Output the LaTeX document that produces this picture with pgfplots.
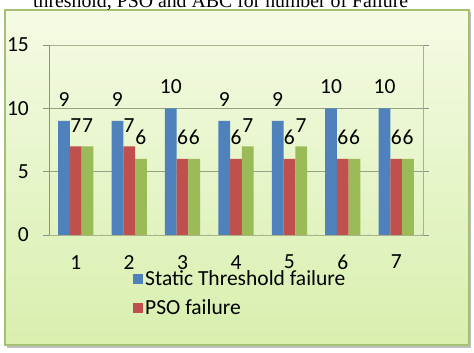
\documentclass[border=0pt]{standalone}
\usepackage{pgfplots}
\pgfplotsset{compat=1.18}
\usepackage{fontspec}
\setmainfont{Carlito}
\newfontfamily\titlefont{Liberation Serif}
\definecolor{sblue}{RGB}{79,129,189}
\definecolor{sred}{RGB}{192,80,77}
\definecolor{sgreen}{RGB}{155,187,89}
\definecolor{frameg}{RGB}{165,192,112}
\definecolor{bordo}{RGB}{168,180,135}
\definecolor{gridc}{RGB}{150,160,130}
\definecolor{axisg}{RGB}{140,145,140}
\definecolor{bgtop}{RGB}{244,251,228}
\definecolor{bgbot}{RGB}{216,239,174}
\begin{document}
\begin{tikzpicture}[x=1pt,y=1pt]
\clip (0,0) rectangle (474,353);
\fill[black!25] (7,5) rectangle (471,341);
\shade[top color=bgtop, bottom color=bgbot] (5,8) rectangle (469,343);
\draw[frameg, line width=1.5pt] (5,8) rectangle (469,343);
\node[anchor=base west, inner sep=0, font=\titlefont\fontsize{19.8}{22}\selectfont] at (33,345.5) {threshold, PSO and ABC for number of Failure};
\begin{axis}[
  at={(49pt,118pt)}, anchor=south west,
  width=374pt, height=190pt, scale only axis,
  /pgf/number format/assume math mode=true,
  ybar=0pt, bar width=0.22,
  xmin=0.5, xmax=7.5, ymin=0, ymax=15,
  xtick={1,...,7}, ytick={0,5,10,15},
  xtick style={draw=none},
  ytick style={axisg, line width=0.8pt},
  tick align=outside, major tick length=6pt,
  ymajorgrids, grid style={gridc, line width=0.8pt},
  axis line style={bordo, line width=0.8pt},
  ticklabel style={font=\fontsize{21.5}{25}\selectfont},
  xticklabel style={inner sep=0pt, yshift=-14pt},
  yticklabel style={inner sep=0pt, xshift=-14pt},
  nodes near coords,
  every node near coord/.append style={anchor=south, inner sep=0pt, yshift=14pt, font=\fontsize{21.5}{25}\selectfont, text=black},
  legend style={at={(rel axis cs:0.2246,-0.175)}, anchor=north west, draw=none, fill=none, inner sep=0pt, font=\fontsize{21.5}{25}\selectfont, row sep=9pt, cells={anchor=west}},
  legend image code/.code={\fill[#1] (0pt,-5pt) rectangle (10pt,5pt);},
]
\addplot[draw=none, fill=sblue] coordinates {(1,9) (2,9) (3,10) (4,9) (5,9) (6,10) (7,10)};
\addplot[draw=none, fill=sred] coordinates {(1,7) (2,7) (3,6) (4,6) (5,6) (6,6) (7,6)};
\addplot[draw=none, fill=sgreen] coordinates {(1,7) (2,6) (3,6) (4,7) (5,7) (6,6) (7,6)};
\legend{Static Threshold failure, PSO failure}
\draw[axisg, line width=0.8pt] (rel axis cs:0,0) -- (rel axis cs:0,1);
\draw[axisg, line width=0.8pt] (rel axis cs:0,0) -- (rel axis cs:1,0);
\pgfplotsinvokeforeach{0.5,1.5,2.5,3.5,4.5,5.5,6.5,7.5}{\draw[axisg, line width=0.8pt] (axis cs:#1,0) -- ++(0,-5pt);}
\end{axis}
\end{tikzpicture}
\end{document}
